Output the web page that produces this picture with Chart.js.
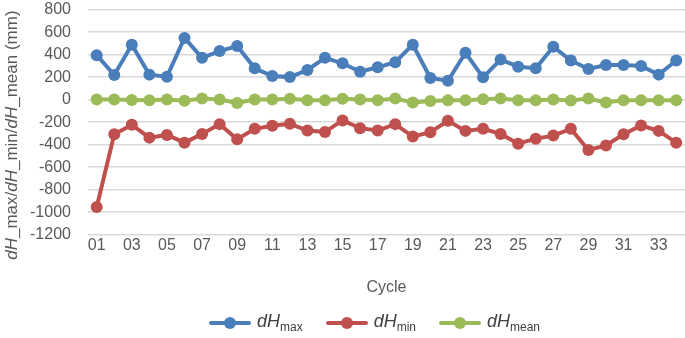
<!DOCTYPE html>
<html>
<head>
<meta charset="utf-8">
<script src="https://cdn.jsdelivr.net/npm/chart.js@4/dist/chart.umd.min.js"></script>
<style>
    html, body { margin: 0; padding: 0; background: #fff; }
    #wrap { position: relative; width: 685px; height: 338px; overflow: hidden; }
    /* el canvas se desplaza para que el area de trazado caiga donde la del original */
    #chart { position: absolute; left: 0; top: -17px; }
    #legend {
        position: absolute; left: 32px; top: 311px; width: 685px;
        display: flex; justify-content: center; gap: 23px;
        font-family: "Liberation Sans", Arial, sans-serif; color: #404040;
    }
    .item { display: flex; align-items: center; }
    .swatch { position: relative; width: 42px; height: 12px; margin-right: 6px; }
    .swatch .ln { position: absolute; left: 0; right: 0; top: 4px; height: 4px; border-radius: 2px; }
    .swatch .dot { position: absolute; left: 15px; top: 0; width: 12px; height: 12px; border-radius: 50%; }
    .lbl { font-size: 18px; }
    .lbl i { font-style: italic; }
    .lbl sub { font-size: 12px; vertical-align: -4px; }
</style>
</head>
<body>
<div id="wrap">
    <canvas id="chart" width="691" height="355"></canvas>
    <div id="legend"></div>
</div>
<script>
/* ============================================================
   DATOS
============================================================ */
const cycles = ["01","02","03","04","05","06","07","08","09","10","11","12","13","14","15","16","17",
                "18","19","20","21","22","23","24","25","26","27","28","29","30","31","32","33","34"];

const dHmax = [395, 219, 488, 222, 204, 548, 371, 431, 476, 278, 210, 200, 263, 371, 323, 248, 287,
               332, 488, 192, 168, 416, 198, 356, 293, 278, 470, 347, 272, 308, 308, 299, 222, 347];

const dHmin = [-954, -308, -224, -338, -314, -383, -305, -218, -353, -260, -233, -215, -275, -287, -185, -254, -275,
               -218, -329, -290, -188, -278, -260, -305, -392, -347, -320, -260, -448, -407, -308, -230, -278, -383];

const dHmean = [0, 0, -3, -5, 0, -10, 10, 0, -30, 0, 0, 8, -5, -5, 8, 0, -5,
                10, -25, -12, -5, -5, 3, 10, -5, -5, 0, -8, 10, -25, -5, -5, -5, -5];

const yMin = -1200;
const yMax = 800;
const yStep = 200;

const COL_MAX = "#4A7EBB";
const COL_MIN = "#C0504D";
const COL_MEAN = "#9BBB59";
const GRIS = "#595959";
const FONT = "'Liberation Sans', Arial, sans-serif";

/* ============================================================
   TITULO EJE Y (cursiva mixta)
============================================================ */
const yTitleParts = [
    { t: "dH", i: true }, { t: "_max/" },
    { t: "dH", i: true }, { t: "_min/" },
    { t: "dH", i: true }, { t: "_mean (mm)" }
];

const yTitlePlugin = {
    id: "yTitleMixto",
    afterDraw(chart) {
        const ctx = chart.ctx;
        const area = chart.chartArea;
        const size = 17;
        ctx.save();
        let total = 0;
        for (const p of yTitleParts) {
            ctx.font = (p.i ? "italic " : "") + size + "px " + FONT;
            total += ctx.measureText(p.t).width;
        }
        ctx.translate(12, (area.top + area.bottom) / 2 + 13);
        ctx.rotate(-Math.PI / 2);
        ctx.fillStyle = GRIS;
        ctx.textBaseline = "middle";
        let x = -total / 2;
        for (const p of yTitleParts) {
            ctx.font = (p.i ? "italic " : "") + size + "px " + FONT;
            ctx.fillText(p.t, x, 0);
            x += ctx.measureText(p.t).width;
        }
        ctx.restore();
    }
};

/* ============================================================
   GRAFICO
============================================================ */
function serie(label, data, color) {
    return {
        label, data,
        borderColor: color,
        backgroundColor: color,
        borderWidth: 4,
        pointRadius: 6,
        pointHoverRadius: 6,
        pointBorderWidth: 0,
        tension: 0
    };
}

new Chart(document.getElementById("chart"), {
    type: "line",
    data: {
        labels: cycles,
        datasets: [
            serie("dHmax", dHmax, COL_MAX),
            serie("dHmin", dHmin, COL_MIN),
            serie("dHmean", dHmean, COL_MEAN)
        ]
    },
    options: {
        responsive: false,
        animation: false,
        layout: { padding: { left: 13, right: 1, top: 0, bottom: 41 } },
        plugins: { legend: { display: false }, tooltip: { enabled: false } },
        scales: {
            x: {
                offset: true,
                grid: { display: false, drawTicks: false },
                border: { display: false },
                ticks: {
                    color: GRIS,
                    font: { family: FONT, size: 16 },
                    autoSkip: false,
                    maxRotation: 0,
                    padding: 1,
                    callback: (v, i) => (i % 2 === 0 ? cycles[i] : "")
                },
                title: {
                    display: true,
                    text: "Cycle",
                    color: GRIS,
                    font: { family: FONT, size: 16 },
                    padding: { top: 22, bottom: 0 }
                }
            },
            y: {
                min: yMin,
                max: yMax,
                grid: { color: "#D9D9D9", lineWidth: 1.5, drawTicks: false },
                border: { display: false },
                ticks: {
                    stepSize: yStep,
                    autoSkip: false,
                    color: GRIS,
                    font: { family: FONT, size: 16 },
                    padding: 17,
                    callback: v => String(v)
                }
            }
        }
    },
    plugins: [yTitlePlugin]
});

/* ============================================================
   LEYENDA HTML
============================================================ */
const leyenda = [
    { sub: "max", color: COL_MAX },
    { sub: "min", color: COL_MIN },
    { sub: "mean", color: COL_MEAN }
];

const legendEl = document.getElementById("legend");
for (const l of leyenda) {
    const it = document.createElement("div");
    it.className = "item";
    it.innerHTML = `
        <div class="swatch">
            <div class="ln" style="background:${l.color}"></div>
            <div class="dot" style="background:${l.color}"></div>
        </div>
        <span class="lbl"><i>dH</i><sub>${l.sub}</sub></span>
    `;
    legendEl.appendChild(it);
}
</script>
</body>
</html>
